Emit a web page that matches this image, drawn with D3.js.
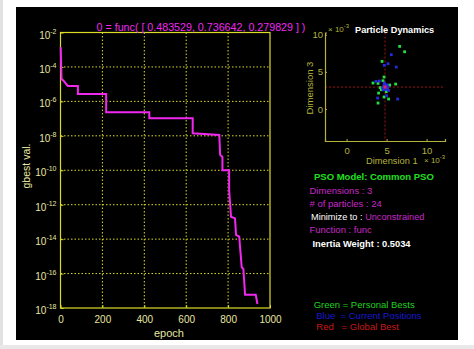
<!DOCTYPE html>
<html>
<head>
<meta charset="utf-8">
<script src="https://cdn.jsdelivr.net/npm/d3@7"></script>
<style>
  html, body { margin: 0; padding: 0; background: #ffffff; }
  svg { display: block; font-family: "Liberation Sans", Arial, sans-serif; }
</style>
</head>
<body>
<svg id="fig" width="474" height="349"></svg>
<script>
// Convergence history of the global best value
const epochs = [1, 5, 7, 19, 27, 35, 83, 83, 218, 218, 424, 424, 631, 631, 758, 762, 773, 773,
                805, 805, 814, 833, 838, 853, 865, 873, 881, 932, 940];
const gbestValues = [1.38e-3, 1.9e-5, 1.9e-5, 1.38e-5, 1.02e-5, 7.8e-6, 7.8e-6, 2.7e-6, 2.7e-6,
                     2.3e-7, 2.3e-7, 1.05e-7, 1.05e-7, 1.4e-8, 1.12e-8, 7.8e-10, 5.9e-10, 1.0e-10,
                     1.0e-10, 7.1e-12, 2.0e-13, 1.6e-13, 1.74e-14, 1.38e-14, 2.3e-16, 1.86e-16,
                     5.8e-18, 5.8e-18, 1.7e-18];
const epochTicks = [0, 200, 400, 600, 800, 1000];
const gbestTicks = [1e-2, 1e-4, 1e-6, 1e-8, 1e-10, 1e-12, 1e-14, 1e-16, 1e-18];

// Particle swarm snapshot (units of 1e-3)
const personalBestDim1 = [6.63, 7.25, 4.43, 4.68, 3.30, 3.93, 6.13, 4.00, 4.68, 5.25, 3.93, 4.34,
                          5.38, 4.96, 4.55, 4.20, 4.85, 5.05, 4.70, 4.95, 5.10, 4.75, 4.90, 5.00];
const personalBestDim3 = [8.43, 7.71, 6.41, 4.31, 3.50, 3.45, 3.36, 2.15, 1.62, 1.35, 0.81, 2.60,
                          3.23, 2.33, 3.81, 2.87, 2.90, 3.10, 3.05, 2.80, 2.95, 3.20, 2.70, 3.00];
const positionDim1 = [5.59, 5.18, 6.21, 4.71, 3.68, 4.09, 4.71, 4.93, 4.50, 5.25, 6.38, 3.88,
                      5.00, 4.59, 4.80, 5.05, 4.65, 4.90, 5.15, 4.75, 4.85, 5.00, 4.70, 4.95];
const positionDim3 = [7.31, 6.10, 5.65, 5.87, 3.71, 3.77, 3.50, 3.04, 2.83, 2.50, 1.35, 1.48,
                      1.79, 2.60, 3.15, 3.25, 2.95, 2.75, 3.00, 3.35, 2.85, 3.05, 3.20, 2.65];
const globalBest = [4.80, 2.96];
const dimTicks = [0, 5, 10];

const infoLines = [
  ["PSO Model: Common PSO"],
  ["Dimensions : 3"],
  ["# of particles : 24"],
  ["Minimize to : ", "Unconstrained"],
  ["Function : func"],
  ["Inertia Weight : 0.5034"]
];
const legendLines = [" Green = Personal Bests", "  Blue  = Current Positions", "  Red   = Global Best"];

const svg = d3.select("#fig");
const AXIS = "#dcdc28";
const LABEL = "#e6e6a0";

// page edge and figure background
svg.append("rect").attr("x", 0).attr("y", 0).attr("width", 3).attr("height", 349).attr("fill", "#e2e2e2");
svg.append("rect").attr("x", 0).attr("y", 345).attr("width", 474).attr("height", 4).attr("fill", "#e8e8e8");
svg.append("rect").attr("x", 16).attr("y", 7).attr("width", 442).attr("height", 333).attr("fill", "#000");

// ---------- convergence plot ----------
const x = d3.scaleLinear().domain([0, 1000]).range([60.5, 270]);
const y = d3.scaleLog().domain([1e-18, 1e-2]).range([308, 32.5]);

const g = svg.append("g");

// dotted grid
g.selectAll(".vgrid").data(epochTicks.slice(1, -1)).join("line")
  .attr("x1", d => x(d)).attr("x2", d => x(d)).attr("y1", y(1e-2)).attr("y2", y(1e-18))
  .attr("stroke", AXIS).attr("stroke-width", 1).attr("stroke-dasharray", "1.5,2");
g.selectAll(".hgrid").data(gbestTicks.slice(1, -1)).join("line")
  .attr("x1", x(0)).attr("x2", x(1000)).attr("y1", d => y(d)).attr("y2", d => y(d))
  .attr("stroke", AXIS).attr("stroke-width", 1).attr("stroke-dasharray", "1.5,2");

// box
g.append("rect").attr("x", x(0)).attr("y", y(1e-2))
  .attr("width", x(1000) - x(0)).attr("height", y(1e-18) - y(1e-2))
  .attr("fill", "none").attr("stroke", AXIS).attr("stroke-width", 1.2);

// axes
const xAxis = g.append("g").attr("transform", `translate(0,${y(1e-18)})`)
  .call(d3.axisBottom(x).tickValues(epochTicks).tickSize(-3).tickPadding(8).tickFormat(d3.format("d")));
const yAxis = g.append("g").attr("transform", `translate(${x(0)},0)`)
  .call(d3.axisLeft(y).tickValues(gbestTicks).tickSize(-3).tickPadding(4).tickFormat(() => ""));
[xAxis, yAxis].forEach(a => {
  a.select(".domain").remove();
  a.selectAll(".tick line").attr("stroke", AXIS);
  a.selectAll(".tick text").attr("fill", LABEL).attr("font-size", 10)
    .attr("font-family", "Liberation Sans, Arial, sans-serif");
});
yAxis.selectAll(".tick text").each(function(d) {
  const t = d3.select(this);
  t.text("10");
  t.append("tspan").attr("dy", -5).attr("font-size", 7).text(Math.round(Math.log10(d)));
});
yAxis.selectAll(".tick text").attr("dy", "0.55em");

// convergence line
g.append("path").datum(epochs.map((e, i) => [e, gbestValues[i]]))
  .attr("d", d3.line().x(d => x(d[0])).y(d => y(d[1])))
  .attr("fill", "none").attr("stroke", "#f028f0").attr("stroke-width", 2);

// labels
g.append("text").attr("x", 201).attr("y", 31).attr("text-anchor", "middle")
  .attr("fill", "#f028f0").attr("font-size", 10.7)
  .text("0 = func( [ 0.483529, 0.736642, 0.279829 ] )");
g.append("text").attr("x", 169).attr("y", 337).attr("text-anchor", "middle")
  .attr("fill", LABEL).attr("font-size", 11).text("epoch");
g.append("text").attr("transform", "translate(30,166) rotate(-90)").attr("text-anchor", "middle")
  .attr("fill", LABEL).attr("font-size", 10.5).text("gbest val.");

// ---------- particle dynamics ----------
const DIM = "#b4b43c";
const px = d3.scaleLinear().domain([-2.7, 12.3]).range([325, 445]);
const py = d3.scaleLinear().domain([-4.3, 10.3]).range([141, 32.5]);
const p = svg.append("g");

// global best crosshair
p.append("line").attr("x1", px(globalBest[0])).attr("x2", px(globalBest[0]))
  .attr("y1", py(10.3)).attr("y2", py(-4.3))
  .attr("stroke", "#a01010").attr("stroke-width", 1).attr("stroke-dasharray", "2,2");
p.append("line").attr("x1", px(-2.7)).attr("x2", px(12.3))
  .attr("y1", py(globalBest[1])).attr("y2", py(globalBest[1]))
  .attr("stroke", "#a01010").attr("stroke-width", 1).attr("stroke-dasharray", "2,2");

const pxAxis = p.append("g").attr("transform", `translate(0,${py(-4.3)})`)
  .call(d3.axisBottom(px).tickValues(dimTicks).tickSize(-2).tickPadding(6));
const pyAxis = p.append("g").attr("transform", `translate(${px(-2.7)},0)`)
  .call(d3.axisLeft(py).tickValues(dimTicks).tickSize(-2).tickPadding(2));
[pxAxis, pyAxis].forEach(a => {
  a.select(".domain").attr("stroke", DIM).attr("stroke-width", 1.2);
  a.selectAll(".tick line").attr("stroke", DIM);
  a.selectAll(".tick text").attr("fill", DIM).attr("font-size", 9.5)
    .attr("font-family", "Liberation Sans, Arial, sans-serif");
});

// swarm points
const pbest = personalBestDim1.map((v, i) => [v, personalBestDim3[i]]);
const pos = positionDim1.map((v, i) => [v, positionDim3[i]]);
p.selectAll(".pb").data(pbest).join("rect")
  .attr("x", d => px(d[0]) - 1.4).attr("y", d => py(d[1]) - 1.4)
  .attr("width", 2.8).attr("height", 2.8).attr("fill", "#20e040");
p.selectAll(".cp").data(pos).join("rect")
  .attr("x", d => px(d[0]) - 1.4).attr("y", d => py(d[1]) - 1.4)
  .attr("width", 2.8).attr("height", 2.8).attr("fill", "#2828e0");
p.append("rect").attr("x", px(globalBest[0]) - 1.5).attr("y", py(globalBest[1]) - 1.5)
  .attr("width", 3).attr("height", 3).attr("fill", "#e02060");

// titles and axis labels
p.append("text").attr("x", 355).attr("y", 33).attr("fill", "#ffffff")
  .attr("font-size", 9.2).attr("font-weight", "bold").text("Particle Dynamics");
const e1 = p.append("text").attr("x", 328).attr("y", 32).attr("fill", DIM).attr("font-size", 8);
e1.append("tspan").text("× 10");
e1.append("tspan").attr("dy", -4).attr("font-size", 6).text("-3");
p.append("text").attr("transform", "translate(313,88) rotate(-90)").attr("text-anchor", "middle")
  .attr("fill", DIM).attr("font-size", 9.5).text("Dimension 3");
p.append("text").attr("x", 366).attr("y", 164).attr("fill", DIM).attr("font-size", 9.3).text("Dimension 1");
const e2 = p.append("text").attr("x", 424).attr("y", 163).attr("fill", DIM).attr("font-size", 8);
e2.append("tspan").text("× 10");
e2.append("tspan").attr("dy", -4).attr("font-size", 6).text("-3");

// ---------- model information ----------
const info = svg.append("g");
const infoY = [179.5, 193.5, 206.5, 220, 233, 246.5];
const infoX = [314, 309.5, 309.5, 311, 309.5, 312.5];
const infoStyle = [
  { fill: ["#20e020"], weight: "bold", size: 9.5 },
  { fill: ["#c828c8"], weight: "normal", size: 9.5 },
  { fill: ["#c828c8"], weight: "normal", size: 9.5 },
  { fill: ["#ffffff", "#c828c8"], weight: "normal", size: 9.2 },
  { fill: ["#c828c8"], weight: "normal", size: 9.5 },
  { fill: ["#ffffff"], weight: "bold", size: 9.3 }
];
infoLines.forEach((parts, i) => {
  const t = info.append("text").attr("x", infoX[i]).attr("y", infoY[i])
    .attr("font-size", infoStyle[i].size).attr("font-weight", infoStyle[i].weight);
  parts.forEach((s, j) => t.append("tspan").attr("fill", infoStyle[i].fill[j]).attr("xml:space", "preserve").text(s));
});

const legendColors = ["#20d020", "#1818d0", "#c81818"];
legendLines.forEach((s, i) => {
  svg.append("text").attr("x", 311).attr("y", 308 + i * 11.2)
    .attr("fill", legendColors[i]).attr("font-size", 9.5)
    .attr("xml:space", "preserve").style("white-space", "pre").text(s);
});
</script>
</body>
</html>
